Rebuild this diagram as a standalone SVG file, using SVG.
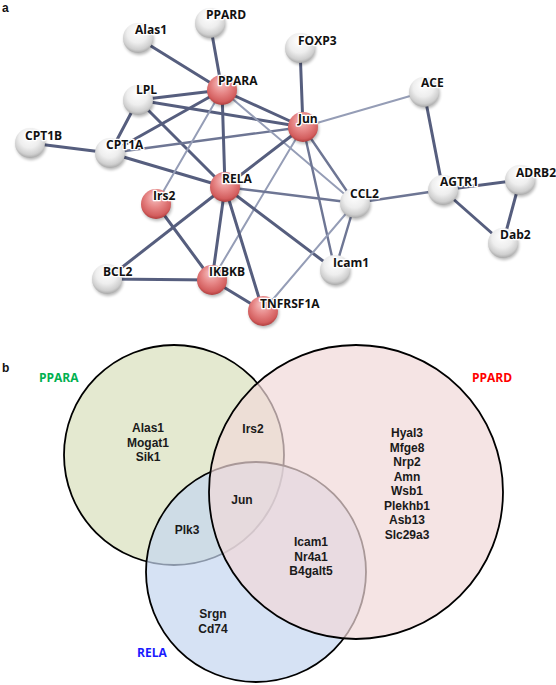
<svg xmlns="http://www.w3.org/2000/svg" width="556" height="685" viewBox="0 0 556 685">
<defs>
<radialGradient id="gGray" cx="0.5" cy="0.38" r="0.62" fx="0.45" fy="0.25">
<stop offset="0" stop-color="#ffffff"/>
<stop offset="0.55" stop-color="#eeeeee"/>
<stop offset="0.85" stop-color="#cfcfcf"/>
<stop offset="1" stop-color="#a9a9a9"/>
</radialGradient>
<radialGradient id="gRed" cx="0.5" cy="0.38" r="0.62" fx="0.45" fy="0.25">
<stop offset="0" stop-color="#f7c4c4"/>
<stop offset="0.5" stop-color="#e68585"/>
<stop offset="0.85" stop-color="#d35e5e"/>
<stop offset="1" stop-color="#b13d3d"/>
</radialGradient>
<filter id="blur" x="-50%" y="-50%" width="200%" height="200%"><feGaussianBlur stdDeviation="1.5"/></filter>
<style>
.e1{stroke:#565e7e;stroke-width:3;stroke-linecap:round}
.e2{stroke:#6e7694;stroke-width:2.4;stroke-linecap:round}
.e3{stroke:#959db6;stroke-width:2;stroke-linecap:round}
.sh{fill:#000;opacity:0.28;filter:url(#blur)}
.gray{fill:url(#gGray)}
.red{fill:url(#gRed)}
.nl{font-family:"Open Sans","Liberation Sans",sans-serif;font-weight:700;font-size:12px;fill:#111;stroke:#fff;stroke-width:2.5;stroke-linejoin:round;paint-order:stroke}
.vt{font-family:"Liberation Sans",Arial,sans-serif;font-weight:700;font-size:12px;fill:#1a1a1a;text-anchor:middle}
.pl{font-family:"Open Sans","Liberation Sans",sans-serif;font-weight:700;font-size:12px}
.lt{font-family:"Liberation Sans",sans-serif;font-weight:700;font-size:12px;fill:#111}
</style>
</defs>
<rect width="556" height="685" fill="#fff"/>
<text class="lt" x="2" y="12">a</text>
<text class="lt" x="2" y="372">b</text>

<g id="connectors">
<line class="e1" x1="138" y1="38" x2="222" y2="90"/>
<line class="e1" x1="210" y1="23" x2="222" y2="90"/>
<line class="e1" x1="138" y1="100" x2="222" y2="90"/>
<line class="e1" x1="138" y1="100" x2="110" y2="153"/>
<line class="e1" x1="138" y1="100" x2="225" y2="187"/>
<line class="e1" x1="138" y1="100" x2="303" y2="127"/>
<line class="e1" x1="30" y1="143" x2="110" y2="153"/>
<line class="e1" x1="110" y1="153" x2="222" y2="90"/>
<line class="e1" x1="110" y1="153" x2="225" y2="187"/>
<line class="e2" x1="110" y1="153" x2="303" y2="127"/>
<line class="e1" x1="222" y1="90" x2="225" y2="187"/>
<line class="e1" x1="222" y1="90" x2="303" y2="127"/>
<line class="e3" x1="222" y1="90" x2="355" y2="203"/>
<line class="e3" x1="222" y1="90" x2="156" y2="204"/>
<line class="e1" x1="300" y1="48" x2="303" y2="127"/>
<line class="e3" x1="303" y1="127" x2="424" y2="92"/>
<line class="e1" x1="303" y1="127" x2="225" y2="187"/>
<line class="e2" x1="303" y1="127" x2="355" y2="203"/>
<line class="e2" x1="303" y1="127" x2="335" y2="270"/>
<line class="e3" x1="303" y1="127" x2="212" y2="280"/>
<line class="e2" x1="225" y1="187" x2="355" y2="203"/>
<line class="e1" x1="225" y1="187" x2="335" y2="270"/>
<line class="e1" x1="225" y1="187" x2="212" y2="280"/>
<line class="e1" x1="225" y1="187" x2="263" y2="311"/>
<line class="e1" x1="225" y1="187" x2="107" y2="279"/>
<line class="e1" x1="107" y1="279" x2="212" y2="280"/>
<line class="e1" x1="156" y1="204" x2="212" y2="280"/>
<line class="e1" x1="212" y1="280" x2="263" y2="311"/>
<line class="e2" x1="355" y1="203" x2="335" y2="270"/>
<line class="e3" x1="355" y1="203" x2="263" y2="311"/>
<line class="e2" x1="355" y1="203" x2="443" y2="190"/>
<line class="e1" x1="424" y1="92" x2="443" y2="190"/>
<line class="e1" x1="443" y1="190" x2="520" y2="180"/>
<line class="e1" x1="443" y1="190" x2="503" y2="243"/>
<line class="e1" x1="520" y1="180" x2="503" y2="243"/>
</g>

<g id="n-Alas1" transform="translate(138,38)"><circle class="sh" r="15" cx="1" cy="2"/><circle class="gray" r="15"/><text class="nl" x="-3" y="-4">Alas1</text></g>
<g id="n-PPARD" transform="translate(210,23)"><circle class="sh" r="15" cx="1" cy="2"/><circle class="gray" r="15"/><text class="nl" x="-4" y="-4">PPARD</text></g>
<g id="n-FOXP3" transform="translate(300,48)"><circle class="sh" r="15" cx="1" cy="2"/><circle class="gray" r="15"/><text class="nl" x="-2" y="-3">FOXP3</text></g>
<g id="n-ACE" transform="translate(424,92)"><circle class="sh" r="15" cx="1" cy="2"/><circle class="gray" r="15"/><text class="nl" x="-3" y="-5">ACE</text></g>
<g id="n-LPL" transform="translate(138,100)"><circle class="sh" r="15" cx="1" cy="2"/><circle class="gray" r="15"/><text class="nl" x="-2" y="-6">LPL</text></g>
<g id="n-PPARA" transform="translate(222,90)"><circle class="sh" r="15" cx="1" cy="2"/><circle class="red" r="15"/><text class="nl" x="-4" y="-5">PPARA</text></g>
<g id="n-Jun" transform="translate(303,127)"><circle class="sh" r="15" cx="1" cy="2"/><circle class="red" r="15"/><text class="nl" x="-5" y="-4">Jun</text></g>
<g id="n-CPT1B" transform="translate(30,143)"><circle class="sh" r="15" cx="1" cy="2"/><circle class="gray" r="15"/><text class="nl" x="-5" y="-3">CPT1B</text></g>
<g id="n-CPT1A" transform="translate(110,153)"><circle class="sh" r="15" cx="1" cy="2"/><circle class="gray" r="15"/><text class="nl" x="-4" y="-4">CPT1A</text></g>
<g id="n-RELA" transform="translate(225,187)"><circle class="sh" r="15" cx="1" cy="2"/><circle class="red" r="15"/><text class="nl" x="-3" y="-4">RELA</text></g>
<g id="n-Irs2" transform="translate(156,204)"><circle class="sh" r="15" cx="1" cy="2"/><circle class="red" r="15"/><text class="nl" x="-3" y="-4">Irs2</text></g>
<g id="n-CCL2" transform="translate(355,203)"><circle class="sh" r="15" cx="1" cy="2"/><circle class="gray" r="15"/><text class="nl" x="-5" y="-5">CCL2</text></g>
<g id="n-AGTR1" transform="translate(443,190)"><circle class="sh" r="15" cx="1" cy="2"/><circle class="gray" r="15"/><text class="nl" x="-3" y="-4">AGTR1</text></g>
<g id="n-ADRB2" transform="translate(520,180)"><circle class="sh" r="15" cx="1" cy="2"/><circle class="gray" r="15"/><text class="nl" x="-4" y="-3">ADRB2</text></g>
<g id="n-Dab2" transform="translate(503,243)"><circle class="sh" r="15" cx="1" cy="2"/><circle class="gray" r="15"/><text class="nl" x="-3" y="-4">Dab2</text></g>
<g id="n-BCL2" transform="translate(107,279)"><circle class="sh" r="15" cx="1" cy="2"/><circle class="gray" r="15"/><text class="nl" x="-4" y="-3">BCL2</text></g>
<g id="n-IKBKB" transform="translate(212,280)"><circle class="sh" r="15" cx="1" cy="2"/><circle class="red" r="15"/><text class="nl" x="-3" y="-4">IKBKB</text></g>
<g id="n-Icam1" transform="translate(335,270)"><circle class="sh" r="15" cx="1" cy="2"/><circle class="gray" r="15"/><text class="nl" x="-2" y="-3">Icam1</text></g>
<g id="n-TNFRSF1A" transform="translate(263,311)"><circle class="sh" r="15" cx="1" cy="2"/><circle class="red" r="15"/><text class="nl" x="-3" y="-3">TNFRSF1A</text></g>

<g id="venn">
<circle cx="174" cy="455" r="110" fill="#e4e9d0" stroke="#000" stroke-width="1.8"/>
<circle cx="256" cy="572" r="110" fill="#c4d6f0" fill-opacity="0.7" stroke="#000" stroke-width="1.8"/>
<circle cx="356" cy="492" r="147" fill="#f1d8d8" fill-opacity="0.7" stroke="#000" stroke-width="1.8"/>
<text class="pl" x="39" y="382" fill="#00b050">PPARA</text>
<text class="pl" x="472" y="382" fill="#ff0000">PPARD</text>
<text class="pl" x="137" y="657" fill="#1a1aff">RELA</text>
<text class="vt" x="148" y="432">Alas1</text>
<text class="vt" x="148" y="447">Mogat1</text>
<text class="vt" x="148" y="461">Sik1</text>
<text class="vt" x="253" y="433">Irs2</text>
<text class="vt" x="242" y="504">Jun</text>
<text class="vt" x="187" y="534">Plk3</text>
<text class="vt" x="407" y="437">Hyal3</text>
<text class="vt" x="407" y="451.5">Mfge8</text>
<text class="vt" x="407" y="466">Nrp2</text>
<text class="vt" x="407" y="480.5">Amn</text>
<text class="vt" x="407" y="495">Wsb1</text>
<text class="vt" x="407" y="509.5">Plekhb1</text>
<text class="vt" x="407" y="524">Asb13</text>
<text class="vt" x="407" y="538.5">Slc29a3</text>
<text class="vt" x="311" y="546">Icam1</text>
<text class="vt" x="311" y="560.5">Nr4a1</text>
<text class="vt" x="311" y="575">B4galt5</text>
<text class="vt" x="213" y="618">Srgn</text>
<text class="vt" x="213" y="632.5">Cd74</text>
</g>
</svg>
